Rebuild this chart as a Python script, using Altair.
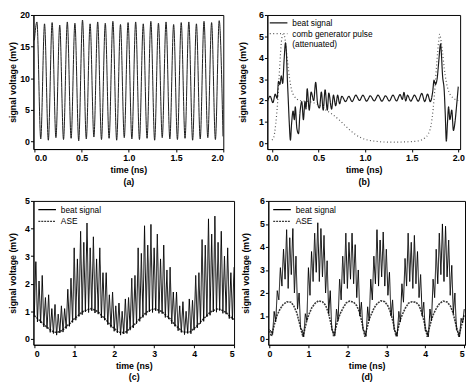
import altair as alt
import pandas as pd

FONT = "Liberation Sans"

# ---------------- (a) beat signal: extrema ----------------
A_START = (0.0, 16.0)
A_T0 = 0.027          # time of first peak (ns)
A_HALF = 0.0402       # half period of the 12.5 GHz beat (ns)
A_PEAKS = [18.9, 18.6, 18.8, 18.4, 18.9, 18.7, 19.2, 18.6, 18.9, 18.7, 19.0, 18.5, 18.8,
           18.9, 18.6, 19.0, 18.7, 18.9, 18.5, 18.8, 18.9, 18.6, 19.0, 18.8, 19.1]
A_TROUGHS = [0.4, 0.2, 0.6, 0.3, 0.5, 0.1, 0.4, 0.7, 0.3, 0.5, 0.2, 0.6, 0.4,
             0.3, 0.5, 0.2, 0.6, 0.4, 0.3, 0.5, 0.2, 0.4, 0.6, 0.3, 0.8]

# ---------------- (b) beat signal and comb generator pulse ----------------
B_BEAT_T = [-0.05, -0.02, 0.01, 0.035, 0.055, 0.07, 0.085, 0.10, 0.115, 0.13, 0.145, 0.155, 0.165,
            0.175, 0.185, 0.198, 0.21, 0.226, 0.24, 0.25, 0.267, 0.285, 0.30, 0.32, 0.337, 0.354,
            0.365, 0.378, 0.40, 0.42, 0.448, 0.469, 0.49, 0.51, 0.53, 0.55, 0.57, 0.594, 0.61, 0.64,
            0.66, 0.684, 0.705, 0.726, 0.75, 0.79, 0.825, 0.86, 0.90, 0.94, 0.976, 1.016, 1.056,
            1.098, 1.139, 1.18, 1.219, 1.26, 1.299, 1.337, 1.375, 1.40, 1.417, 1.436, 1.455, 1.49,
            1.53, 1.57, 1.608, 1.64, 1.67, 1.70, 1.725, 1.74, 1.755, 1.774, 1.79, 1.81, 1.82, 1.83,
            1.85, 1.86, 1.872, 1.884, 1.896, 1.91, 1.93, 1.948, 1.965, 1.983, 2.0]
B_BEAT_V = [1.95, 2.2, 1.9, 2.3, 2.1, 2.9, 2.75, 3.15, 2.8, 3.9, 4.7, 4.2, 3.0,
            2.0, 1.0, 0.15, 0.9, 1.5, 1.1, 1.7, 0.7, 0.45, 1.4, 1.95, 1.1, 1.95,
            1.6, 2.55, 1.55, 2.4, 2.0, 2.85, 1.85, 1.65, 2.4, 1.55, 2.5, 1.55, 2.35, 1.6,
            2.25, 1.75, 2.25, 1.85, 2.2, 1.95, 2.2, 1.95, 2.25, 2.0, 2.25, 1.97, 2.22,
            1.98, 2.25, 1.97, 2.22, 1.98, 2.25, 1.98, 2.28, 2.05, 2.38, 1.98, 2.25, 1.97,
            2.25, 1.97, 2.33, 1.95, 2.3, 1.95, 2.4, 2.95, 2.75, 3.05, 3.8, 4.65, 4.1, 3.25,
            2.4, 1.4, 0.1, 0.95, 1.7, 1.1, 1.55, 0.6, 1.0, 1.8, 2.65]
B_COMB_T = [0.0, 0.02, 0.04, 0.06, 0.075, 0.09, 0.105, 0.12, 0.135, 0.15, 0.17, 0.19, 0.21, 0.24,
            0.30, 0.40, 0.50, 0.58, 0.65, 0.72, 0.78, 0.84, 0.90, 0.96, 1.03, 1.10, 1.20, 1.30,
            1.40, 1.50, 1.58, 1.64, 1.68, 1.71, 1.73, 1.75, 1.77, 1.79, 1.80, 1.815, 1.83, 1.85,
            1.87, 1.90, 1.95, 2.0]
B_COMB_V = [0.15, 0.3, 0.9, 1.9, 3.0, 4.1, 4.9, 5.1, 5.0, 4.5, 3.7, 3.0, 2.5, 2.2,
            2.0, 1.95, 1.8, 1.55, 1.35, 1.1, 0.85, 0.6, 0.4, 0.25, 0.15, 0.1, 0.06, 0.05,
            0.06, 0.08, 0.12, 0.25, 0.45, 0.9, 1.6, 2.6, 3.8, 4.8, 5.1, 4.8, 4.3, 3.5,
            2.9, 2.4, 2.1, 2.0]

# ---------------- (c) beat signal spikes and ASE ----------------
C_HALF = 0.04  # sample spacing of the spike extrema (ns)
C_LOWS = [0.80, 0.62, 0.58, 0.44, 0.38, 0.24, 0.20, 0.14, 0.22, 0.25,
          0.38, 0.46, 0.60, 0.68, 0.82, 0.88, 0.98, 0.96, 1.02, 0.94,
          0.90, 0.76, 0.68, 0.52, 0.42, 0.28, 0.22, 0.14, 0.18, 0.20,
          0.32, 0.40, 0.55, 0.64, 0.78, 0.86, 0.98, 0.96, 1.02, 0.93,
          0.92, 0.78, 0.72, 0.55, 0.46, 0.30, 0.24, 0.16, 0.20, 0.19,
          0.32, 0.40, 0.56, 0.64, 0.80, 0.86, 0.98, 0.97, 1.03, 0.93,
          0.90, 0.74, 0.70]
C_HIGHS = [2.8, 2.1, 2.3, 1.5, 1.6, 1.1, 1.25, 0.9, 1.2, 1.1,
           1.8, 2.2, 3.3, 2.9, 3.9, 3.5, 4.2, 3.3, 3.7, 2.9,
           3.3, 2.4, 2.4, 1.6, 1.7, 1.2, 1.3, 1.0, 1.45, 1.5,
           2.2, 2.3, 3.3, 3.1, 4.1, 3.4, 4.15, 3.3, 3.8, 2.9,
           3.4, 2.5, 2.6, 1.7, 1.7, 1.2, 1.35, 1.0, 1.45, 1.4,
           2.3, 2.4, 3.6, 3.4, 4.35, 3.8, 4.45, 3.5, 3.9, 3.0,
           3.3, 2.4, 2.6]
C_ASE_STEP = 0.1
C_ASE = [0.85, 0.72, 0.58, 0.45, 0.33, 0.24, 0.25, 0.31, 0.45, 0.57,
         0.73, 0.85, 0.98, 1.04, 1.10, 1.06, 0.98, 0.83, 0.69, 0.51,
         0.39, 0.25, 0.23, 0.26, 0.39, 0.51, 0.68, 0.81, 0.96, 1.04,
         1.10, 1.05, 0.99, 0.85, 0.73, 0.54, 0.41, 0.27, 0.24, 0.26,
         0.38, 0.51, 0.68, 0.82, 0.97, 1.04, 1.10, 1.04, 0.96, 0.81, 0.71]

# ---------------- (d) beat signal spikes and ASE ----------------
D_HALF = 0.04
D_LOWS = [0.4, 0.2, 0.75, 1.7, 2.3, 2.6, 2.2, 2.8, 2.0, 1.3,
          0.45, 0.1, 0.8, 1.9, 2.5, 2.9, 2.5, 2.7, 2.0, 1.1,
          0.4, 0.15, 0.8, 1.7, 2.4, 2.2, 2.6, 2.4, 1.8, 1.0,
          0.4, 0.12, 0.8, 1.7, 2.4, 2.3, 2.7, 2.3, 1.9, 1.0,
          0.4, 0.12, 0.75, 1.6, 2.3, 2.5, 2.2, 2.4, 1.8, 1.0,
          0.35, 0.1, 0.8, 1.8, 2.4, 2.8, 2.5, 2.7, 1.9, 1.1,
          0.4, 0.1, 0.7]
D_HIGHS = [0.35, 1.2, 2.1, 3.1, 3.9, 4.75, 4.4, 4.8, 3.6, 2.0,
           0.4, 1.1, 3.1, 3.8, 4.6, 5.05, 4.8, 4.5, 3.4, 2.1,
           0.3, 1.3, 2.6, 3.6, 4.6, 4.2, 4.6, 4.1, 3.0, 1.6,
           0.35, 1.4, 2.6, 3.6, 4.75, 4.3, 4.65, 3.9, 2.9, 1.7,
           0.3, 1.2, 2.4, 3.5, 4.6, 4.2, 4.5, 3.8, 2.8, 1.6,
           0.35, 1.3, 2.6, 3.9, 4.6, 5.0, 4.9, 4.3, 3.2, 2.0,
           0.3, 0.9, 1.3]
D_ASE_T = [0.00, 0.05, 0.10, 0.15, 0.20, 0.27, 0.35, 0.45, 0.55, 0.62, 0.70, 0.76, 0.82, 0.86,
           0.91, 0.96, 1.02, 1.09, 1.17, 1.26, 1.36, 1.44, 1.51, 1.57, 1.62, 1.65,
           1.70, 1.76, 1.82, 1.89, 1.97, 2.06, 2.16, 2.24, 2.31, 2.37, 2.42, 2.45,
           2.50, 2.56, 2.62, 2.69, 2.77, 2.86, 2.96, 3.04, 3.11, 3.17, 3.22, 3.25,
           3.30, 3.36, 3.42, 3.49, 3.57, 3.66, 3.76, 3.84, 3.91, 3.97, 4.02, 4.05,
           4.10, 4.16, 4.22, 4.29, 4.37, 4.46, 4.56, 4.64, 4.71, 4.77, 4.83, 4.86,
           4.91, 4.96, 5.00]
D_ASE_V = [0.35, 0.12, 0.45, 0.8, 1.05, 1.3, 1.5, 1.62, 1.6, 1.45, 1.15, 0.75, 0.35, 0.1,
           0.45, 0.82, 1.1, 1.37, 1.55, 1.66, 1.62, 1.47, 1.15, 0.73, 0.35, 0.1,
           0.47, 0.85, 1.12, 1.35, 1.57, 1.65, 1.6, 1.45, 1.17, 0.75, 0.33, 0.1,
           0.45, 0.86, 1.1, 1.36, 1.55, 1.66, 1.62, 1.44, 1.15, 0.76, 0.35, 0.12,
           0.44, 0.85, 1.1, 1.35, 1.56, 1.62, 1.6, 1.46, 1.14, 0.75, 0.36, 0.1,
           0.46, 0.85, 1.12, 1.35, 1.55, 1.65, 1.61, 1.45, 1.15, 0.74, 0.35, 0.1,
           0.45, 0.8, 1.05]

BEAT = "beat signal"
COMB = "comb generator pulse"
ATT = "(attenuated)"
ASE = "ASE"


def interleave(t0, half, first, second):
    t, v = [], []
    for k, (p, q) in enumerate(zip(first, second)):
        t += [round(t0 + 2 * k * half, 4), round(t0 + (2 * k + 1) * half, 4)]
        v += [p, q]
    return t, v


a_t, a_v = interleave(A_T0, A_HALF, A_PEAKS, A_TROUGHS)
a_df = pd.DataFrame({"t": [A_START[0]] + a_t, "v": [A_START[1]] + a_v})

b_beat = pd.DataFrame({"t": B_BEAT_T, "v": B_BEAT_V, "series": BEAT})
b_comb = pd.DataFrame({"t": B_COMB_T, "v": B_COMB_V, "series": COMB})

c_t, c_v = interleave(0.0, C_HALF, C_LOWS, C_HIGHS)
c_beat = pd.DataFrame({"t": c_t, "v": c_v, "series": BEAT})
c_ase = pd.DataFrame({"t": [round(i * C_ASE_STEP, 2) for i in range(len(C_ASE))], "v": C_ASE, "series": ASE})

d_t, d_v = interleave(0.0, D_HALF, D_LOWS, D_HIGHS)
d_beat = pd.DataFrame({"t": d_t, "v": d_v, "series": BEAT})
d_ase = pd.DataFrame({"t": D_ASE_T, "v": D_ASE_V, "series": ASE})


def xaxis(values, fmt, label):
    return alt.Axis(values=values, format=fmt, title=["time (ns)", label], titlePadding=3,
                    titleLineHeight=12, tickSize=3, labelPadding=2)


def yaxis(values, tx):
    return alt.Axis(values=values, format="d", title="signal voltage (mV)", titleX=tx,
                    tickSize=3, labelPadding=1)


def legend(lx, ly, pad):
    return alt.Legend(title=None, orient="none", legendX=lx, legendY=ly, symbolType="M-2,0H2",
                      symbolSize=81, symbolStrokeWidth=1.3, labelFont=FONT, labelFontSize=8.5,
                      labelFontWeight="normal", labelColor="black",
                      rowPadding=pad, padding=0, labelOffset=8.5, labelLimit=250)


def enc(xdom, ydom, xvals, xfmt, xlabel, yvals, tx, series=None, leg=None):
    e = dict(
        x=alt.X("t:Q", scale=alt.Scale(domain=xdom, nice=False, zero=False), axis=xaxis(xvals, xfmt, xlabel)),
        y=alt.Y("v:Q", scale=alt.Scale(domain=ydom, nice=False, zero=False), axis=yaxis(yvals, tx)),
    )
    if series is not None:
        dom, cols, dashes = series
        e["color"] = alt.Color("series:N", scale=alt.Scale(domain=dom, range=cols), legend=legend(*leg))
        e["strokeDash"] = alt.StrokeDash("series:N", scale=alt.Scale(domain=dom, range=dashes), legend=legend(*leg))
    return e


IND_S = dict(color="independent", strokeDash="independent")

# (a)
pa = alt.Chart(a_df).mark_line(clip=True, color="#1a1a1a", strokeWidth=1, interpolate="monotone").encode(
    **enc([-0.01, 2.0], [-1.2, 20], [0, 0.5, 1, 1.5, 2], ".1f", "(a)", [0, 5, 10, 15, 20], -16)
).properties(width=194, height=137)

# (b)
b_series = ([BEAT, COMB, ATT], ["#1a1a1a", "#555555", "rgba(0,0,0,0)"], [[1, 0], [1, 2.5], [1, 0]])
b_enc = enc([-0.05, 2.02], [-0.27, 6], [0, 0.5, 1, 1.5, 2], ".1f", "(b)", [0, 1, 2, 3, 4, 5, 6], -20,
            b_series, (6, 2.5, 1))
pb = alt.layer(
    alt.Chart(b_comb).mark_line(clip=True, strokeWidth=1.2, interpolate="monotone").encode(**b_enc),
    alt.Chart(b_beat).mark_line(clip=True, strokeWidth=1.2, interpolate="monotone").encode(**b_enc),
).properties(width=197, height=137)

# (c)
c_series = ([BEAT, ASE], ["#000000", "#3a3a3a"], [[1, 0], [2, 1]])
c_enc = enc([-0.02, 5.0], [-0.21, 5], [0, 1, 2, 3, 4, 5], "d", "(c)", [0, 1, 2, 3, 4, 5], -16,
            c_series, (8.5, 3.5, 2))
pc = alt.layer(
    alt.Chart(c_ase).mark_line(clip=True, strokeWidth=1.6).encode(**c_enc),
    alt.Chart(c_beat).mark_line(clip=True, strokeWidth=1.0).encode(**c_enc),
).properties(width=205, height=147)

# (d)
d_series = ([BEAT, ASE], ["#000000", "#3a3a3a"], [[1, 0], [2, 1]])
d_enc = enc([-0.03, 5.02], [-0.25, 6], [0, 1, 2, 3, 4, 5], "d", "(d)", [0, 1, 2, 3, 4, 5, 6], -18,
            d_series, (8.5, 3.5, 2))
pd_ = alt.layer(
    alt.Chart(d_ase).mark_line(clip=True, strokeWidth=1.6).encode(**d_enc),
    alt.Chart(d_beat).mark_line(clip=True, strokeWidth=1.0).encode(**d_enc),
).properties(width=201, height=147)

top = alt.hconcat(pa, pb, spacing=14).resolve_scale(**IND_S).resolve_legend(**IND_S)
bottom = alt.hconcat(pc, pd_, spacing=6).resolve_scale(**IND_S).resolve_legend(**IND_S)

chart = alt.vconcat(top, bottom, spacing=9).resolve_scale(**IND_S).resolve_legend(**IND_S).properties(
    padding={"left": 0, "top": -2, "right": 0, "bottom": 0}
).configure_view(
    stroke="black", strokeWidth=1
).configure_axis(
    labelFont=FONT, titleFont=FONT, labelFontSize=9, titleFontSize=9,
    labelFontWeight="bold", titleFontWeight="bold", labelColor="black", titleColor="black",
    domainColor="black", tickColor="black", grid=False
).configure_concat(spacing=8)

chart.save("out.html", embed_options={"renderer": "svg", "actions": False})
